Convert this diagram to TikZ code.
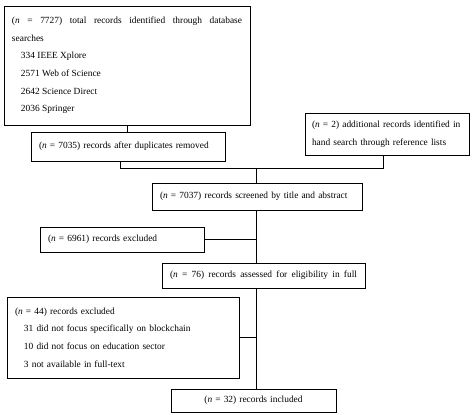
\documentclass[tikz,border=0pt]{standalone}
\usepackage{fontspec}
\setmainfont{Liberation Serif}
\begin{document}
\begin{tikzpicture}[x=1pt,y=-1pt,
 box/.style={draw,line width=0.9pt,inner xsep=8pt,inner ysep=0pt,align=left,font=\fontsize{9.4}{17.6}\selectfont},
 link/.style={line width=0.9pt}]
\useasboundingbox (0,0) rectangle (474,415);
% boxes
\node[box,minimum width=246pt,minimum height=119pt,text width=230pt,align=justify] (db) at (127,65.5)
 {(\textit{n} = 7727) total records identified through database\linebreak searches\par
 \hspace*{9pt}334 IEEE Xplore\par
 \hspace*{9pt}2571 Web of Science\par
 \hspace*{9pt}2642 Science Direct\par
 \hspace*{9pt}2036 Springer};
\node[box,minimum width=194pt,minimum height=29pt,text width=178pt] (dup) at (128,146.5)
 {(\textit{n} = 7035) records after duplicates removed};
\node[box,minimum width=164pt,minimum height=42pt,text width=150pt,inner xsep=7pt] (hand) at (387,134)
 {(\textit{n} = 2) additional records identified in\\hand search through reference lists};
\node[box,minimum width=210pt,minimum height=27pt,text width=194pt] (screen) at (257,196.5)
 {(\textit{n} = 7037) records screened by title and abstract};
\node[box,minimum width=164pt,minimum height=25pt,text width=148pt] (excl1) at (122,239.5)
 {(\textit{n} = 6961) records excluded};
\node[box,minimum width=203pt,minimum height=25pt,text width=187pt] (elig) at (263.5,275.5)
 {\makebox[187pt][l]{(\textit{n}\hfill=\hfill76)\hfill records\hfill assessed\hfill for\hfill eligibility\hfill in\hfill full}};
\node[box,minimum width=232pt,minimum height=81pt,text width=216pt] (excl2) at (123,337.5)
 {(\textit{n} = 44) records excluded\par
 \hspace*{9pt}31 did not focus specifically on blockchain\par
 \hspace*{9pt}10 did not focus on education sector\par
 \hspace*{9pt}3 not available in full-text};
\node[box,minimum width=165pt,minimum height=23pt,text width=149pt,align=center] (incl) at (253.5,400.5)
 {(\textit{n} = 32) records included};
% connectors
\coordinate (merge) at (256,168);
\draw[link] (db.south) -- (db.south |- dup.north);
\draw[link] ([xshift=-8pt]dup.south) |- (merge);
\draw[link] ([xshift=-4pt]hand.south) |- (merge);
\draw[link] (merge) -- (merge |- screen.north);
\draw[link] (merge |- screen.south) -- (merge |- elig.north);
\draw[link] (excl1.east) -- (excl1.east -| merge);
\draw[link] (merge |- elig.south) -- (merge |- incl.north);
\draw[link] (excl2.east) -- (excl2.east -| merge);
\end{tikzpicture}
\end{document}
